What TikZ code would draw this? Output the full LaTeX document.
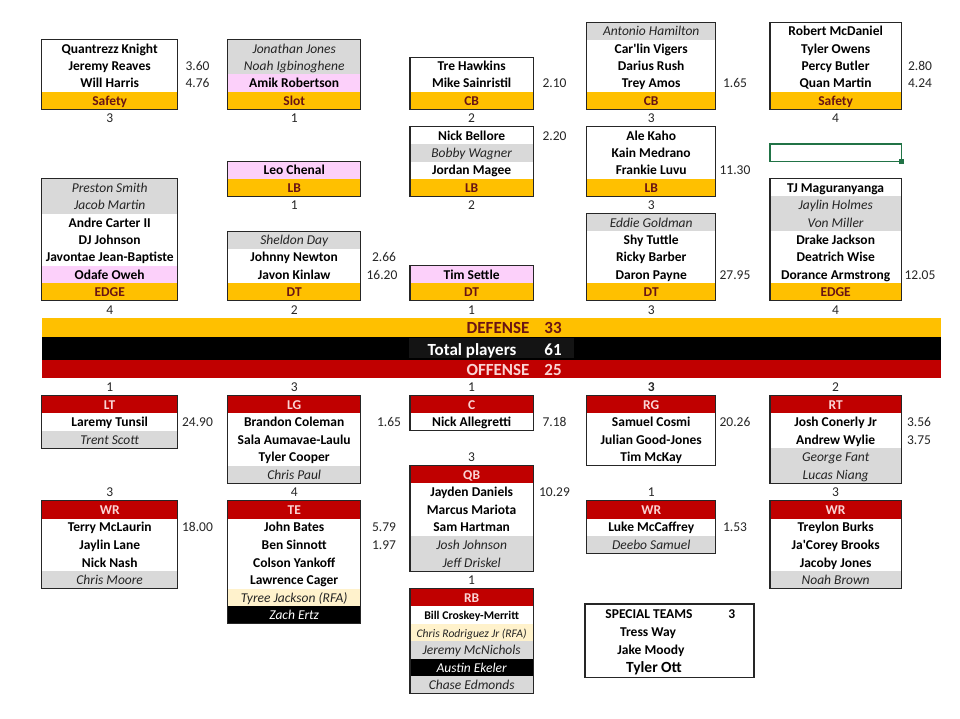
\documentclass[tikz,border=0pt]{standalone}
\usepackage{fontspec}
\setmainfont{Carlito}
\definecolor{gold}{RGB}{255,192,0}
\definecolor{offred}{RGB}{192,0,0}
\definecolor{grayfill}{RGB}{217,217,217}
\definecolor{pinkfill}{RGB}{252,208,250}
\definecolor{creamfill}{RGB}{255,242,204}
\definecolor{hdtext}{RGB}{105,20,20}
\definecolor{offtext}{RGB}{250,212,212}
\definecolor{xlgreen}{RGB}{33,115,70}
\newcounter{cellc}
\def\clA{41.7}\def\crA{177.7}
\def\clC{227.7}\def\crC{360.7}
\def\clE{410}\def\crE{533.3}
\def\clG{586.7}\def\crG{715.7}
\def\clI{770}\def\crI{901.3}
\tikzset{
  cellbase/.style={inner sep=0pt, minimum height=17.7pt, text height=11pt, text depth=1.5pt, text=black, font=\bfseries\fontsize{13.5}{15}\selectfont},
  nm/.style={},
  gy/.style={fill=grayfill, text=black!86, font=\itshape\fontsize{13.5}{15}\selectfont},
  pk/.style={fill=pinkfill},
  dh/.style={fill=gold, text=hdtext},
  oh/.style={fill=offred, text=offtext},
  cr/.style={fill=creamfill, text=black!86, font=\itshape\fontsize{13.5}{15}\selectfont},
  bk/.style={fill=black, text=white, font=\itshape\fontsize{13.5}{15}\selectfont},
  sm/.style={font=\bfseries\fontsize{11.8}{13}\selectfont},
  smi/.style={font=\itshape\fontsize{11.6}{13}\selectfont},
  cnt/.style={inner sep=0pt, text height=11pt, text depth=1.5pt, text=black!85, font=\fontsize{13.5}{15}\selectfont},
  numtxt/.style={inner sep=0pt, text height=11pt, text depth=1.5pt, text=black!85, font=\fontsize{13.5}{15}\selectfont},
  boxline/.style={draw=black!85, line width=1.1pt},
  bandtxt/.style={inner sep=0pt, anchor=base, font=\bfseries\fontsize{17}{19}\selectfont},
}
\newcommand\dcell[4]{%
  \stepcounter{cellc}%
  \pgfmathsetmacro\tmpx{(\csname cl#1\endcsname+\csname cr#1\endcsname)/2}%
  \pgfmathsetmacro\tmpw{\csname cr#1\endcsname-\csname cl#1\endcsname}%
  \pgfmathsetmacro\tmpy{31+17.4*#2}%
  \node[cellbase,minimum width=\tmpw pt,#3] (cell\arabic{cellc}) at (\tmpx,\tmpy) {#4};}
\newcommand\ocell[4]{%
  \stepcounter{cellc}%
  \pgfmathsetmacro\tmpx{(\csname cl#1\endcsname+\csname cr#1\endcsname)/2}%
  \pgfmathsetmacro\tmpw{\csname cr#1\endcsname-\csname cl#1\endcsname}%
  \pgfmathsetmacro\tmpy{386.8+17.55*#2}%
  \node[cellbase,minimum width=\tmpw pt,#3] (cell\arabic{cellc}) at (\tmpx,\tmpy) {#4};}
\newcommand\dbox[3]{%
  \draw[boxline] (\csname cl#1\endcsname,{22.3+17.4*#2}) rectangle (\csname cr#1\endcsname,{22.3+17.4*(#3+1)});}
\newcommand\obox[3]{%
  \draw[boxline] (\csname cl#1\endcsname,{378+17.55*#2}) rectangle (\csname cr#1\endcsname,{378+17.55*(#3+1)});}
\newcommand\dnum[3]{\stepcounter{cellc}\node[numtxt] (cell\arabic{cellc}) at (#1,{31+17.4*#2}) {#3};}
\newcommand\onum[3]{\stepcounter{cellc}\node[numtxt] (cell\arabic{cellc}) at (#1,{386.8+17.55*#2}) {#3};}
\newcommand\dcnt[3]{\stepcounter{cellc}%
  \pgfmathsetmacro\tmpx{(\csname cl#1\endcsname+\csname cr#1\endcsname)/2}%
  \node[cnt] (cell\arabic{cellc}) at (\tmpx,{31+17.4*#2}) {#3};}
\newcommand\ocnt[4][]{\stepcounter{cellc}%
  \pgfmathsetmacro\tmpx{(\csname cl#2\endcsname+\csname cr#2\endcsname)/2}%
  \node[cnt,#1] (cell\arabic{cellc}) at (\tmpx,{386.8+17.55*#3}) {#4};}
\begin{document}
\begin{tikzpicture}[x=1pt,y=-1pt]
\useasboundingbox (0,0) rectangle (960,719);
\fill[white] (0,0) rectangle (960,719);
% ===== DEFENSE =====
% Safety left
\dcell{A}{1}{nm}{Quantrezz Knight}
\dcell{A}{2}{nm}{Jeremy Reaves}
\dcell{A}{3}{nm}{Will Harris}
\dcell{A}{4}{dh}{Safety}
\dbox{A}{1}{4}
\dnum{197.5}{2}{3.60}
\dnum{197.5}{3}{4.76}
\dcnt{A}{5}{3}
% Slot
\dcell{C}{1}{gy}{Jonathan Jones}
\dcell{C}{2}{gy}{Noah Igbinoghene}
\dcell{C}{3}{pk}{Amik Robertson}
\dcell{C}{4}{dh}{Slot}
\dbox{C}{1}{4}
\dcnt{C}{5}{1}
% CB middle
\dcell{E}{2}{nm}{Tre Hawkins}
\dcell{E}{3}{nm}{Mike Sainristil}
\dcell{E}{4}{dh}{CB}
\dbox{E}{2}{4}
\dnum{554.5}{3}{2.10}
\dcnt{E}{5}{2}
% CB right
\dcell{G}{0}{gy}{Antonio Hamilton}
\dcell{G}{1}{nm}{Car\textquotesingle lin Vigers}
\dcell{G}{2}{nm}{Darius Rush}
\dcell{G}{3}{nm}{Trey Amos}
\dcell{G}{4}{dh}{CB}
\dbox{G}{0}{4}
\dnum{735}{3}{1.65}
\dcnt{G}{5}{3}
% Safety right
\dcell{I}{0}{nm}{Robert McDaniel}
\dcell{I}{1}{nm}{Tyler Owens}
\dcell{I}{2}{nm}{Percy Butler}
\dcell{I}{3}{nm}{Quan Martin}
\dcell{I}{4}{dh}{Safety}
\dbox{I}{0}{4}
\dnum{920}{2}{2.80}
\dnum{920}{3}{4.24}
\dcnt{I}{5}{4}
% LB middle
\dcell{E}{6}{nm}{Nick Bellore}
\dcell{E}{7}{gy}{Bobby Wagner}
\dcell{E}{8}{nm}{Jordan Magee}
\dcell{E}{9}{dh}{LB}
\dbox{E}{6}{9}
\dnum{554.5}{6}{2.20}
\dcnt{E}{10}{2}
% LB right
\dcell{G}{6}{nm}{Ale Kaho}
\dcell{G}{7}{nm}{Kain Medrano}
\dcell{G}{8}{nm}{Frankie Luvu}
\dcell{G}{9}{dh}{LB}
\dbox{G}{6}{9}
\dnum{735}{8}{11.30}
\dcnt{G}{10}{3}
% LB left
\dcell{C}{8}{pk}{Leo Chenal}
\dcell{C}{9}{dh}{LB}
\dbox{C}{8}{9}
\dcnt{C}{10}{1}
% selected cell
\draw[xlgreen, line width=1.6pt] (\clI,{22.3+17.4*7}) rectangle (\crI,{22.3+17.4*8});
\fill[xlgreen] ({\crI-2.5},{22.3+17.4*8-2.5}) rectangle ({\crI+2.5},{22.3+17.4*8+2.5});
% EDGE left
\dcell{A}{9}{gy}{Preston Smith}
\dcell{A}{10}{gy}{Jacob Martin}
\dcell{A}{11}{nm}{Andre Carter II}
\dcell{A}{12}{nm}{DJ Johnson}
\dcell{A}{13}{nm}{Javontae Jean-Baptiste}
\dcell{A}{14}{pk}{Odafe Oweh}
\dcell{A}{15}{dh}{EDGE}
\dbox{A}{9}{15}
\dcnt{A}{16}{4}
% DT left
\dcell{C}{12}{gy}{Sheldon Day}
\dcell{C}{13}{nm}{Johnny Newton}
\dcell{C}{14}{nm}{Javon Kinlaw}
\dcell{C}{15}{dh}{DT}
\dbox{C}{12}{15}
\dnum{384}{13}{2.66}
\dnum{382}{14}{16.20}
\dcnt{C}{16}{2}
% DT middle
\dcell{E}{14}{pk}{Tim Settle}
\dcell{E}{15}{dh}{DT}
\dbox{E}{14}{15}
\dcnt{E}{16}{1}
% DT right
\dcell{G}{11}{gy}{Eddie Goldman}
\dcell{G}{12}{nm}{Shy Tuttle}
\dcell{G}{13}{nm}{Ricky Barber}
\dcell{G}{14}{nm}{Daron Payne}
\dcell{G}{15}{dh}{DT}
\dbox{G}{11}{15}
\dnum{735}{14}{27.95}
\dcnt{G}{16}{3}
% EDGE right
\dcell{I}{9}{nm}{TJ Maguranyanga}
\dcell{I}{10}{gy}{Jaylin Holmes}
\dcell{I}{11}{gy}{Von Miller}
\dcell{I}{12}{nm}{Drake Jackson}
\dcell{I}{13}{nm}{Deatrich Wise}
\dcell{I}{14}{nm}{Dorance Armstrong}
\dcell{I}{15}{dh}{EDGE}
\dbox{I}{9}{15}
\dnum{920}{14}{12.05}
\dcnt{I}{16}{4}
% ===== BANDS =====
\fill[gold] (41.7,317.5) rectangle (941,337);
\fill[black] (41.7,337) rectangle (941,360);
\fill[offred] (41.7,360) rectangle (941,378);
\fill[black!92] (409,337.5) rectangle (574,358);
\node[bandtxt, text=hdtext] (deflbl) at (498,333.2) {DEFENSE};
\node[bandtxt, text=hdtext] (defnum) at (553,333.2) {33};
\node[bandtxt, text=white] (totlbl) at (472,355.3) {Total players};
\node[bandtxt, text=white] (totnum) at (553,355.3) {61};
\node[bandtxt, text=offtext] (offlbl) at (498,375.6) {OFFENSE};
\node[bandtxt, text=offtext] (offnum) at (553,375.6) {25};
% ===== OFFENSE =====
% LT
\ocnt{A}{0}{1}
\ocell{A}{1}{oh}{LT}
\ocell{A}{2}{nm}{Laremy Tunsil}
\ocell{A}{3}{gy}{Trent Scott}
\obox{A}{1}{3}
\onum{197.5}{2}{24.90}
% LG
\ocnt{C}{0}{3}
\ocell{C}{1}{oh}{LG}
\ocell{C}{2}{nm}{Brandon Coleman}
\ocell{C}{3}{nm}{Sala Aumavae-Laulu}
\ocell{C}{4}{nm}{Tyler Cooper}
\ocell{C}{5}{gy}{Chris Paul}
\obox{C}{1}{5}
\onum{389}{2}{1.65}
% C
\ocnt{E}{0}{1}
\ocell{E}{1}{oh}{C}
\ocell{E}{2}{nm}{Nick Allegretti}
\obox{E}{1}{2}
\onum{554.5}{2}{7.18}
% RG
\ocnt[font=\bfseries\fontsize{13.5}{15}\selectfont]{G}{0}{3}
\ocell{G}{1}{oh}{RG}
\ocell{G}{2}{nm}{Samuel Cosmi}
\ocell{G}{3}{nm}{Julian Good-Jones}
\ocell{G}{4}{nm}{Tim McKay}
\obox{G}{1}{4}
\onum{735}{2}{20.26}
% RT
\ocnt{I}{0}{2}
\ocell{I}{1}{oh}{RT}
\ocell{I}{2}{nm}{Josh Conerly Jr}
\ocell{I}{3}{nm}{Andrew Wylie}
\ocell{I}{4}{gy}{George Fant}
\ocell{I}{5}{gy}{Lucas Niang}
\obox{I}{1}{5}
\onum{919}{2}{3.56}
\onum{919}{3}{3.75}
% QB
\ocnt{E}{4}{3}
\ocell{E}{5}{oh}{QB}
\ocell{E}{6}{nm}{Jayden Daniels}
\ocell{E}{7}{nm}{Marcus Mariota}
\ocell{E}{8}{nm}{Sam Hartman}
\ocell{E}{9}{gy}{Josh Johnson}
\ocell{E}{10}{gy}{Jeff Driskel}
\obox{E}{5}{10}
\onum{554.5}{6}{10.29}
% WR left
\ocnt{A}{6}{3}
\ocell{A}{7}{oh}{WR}
\ocell{A}{8}{nm}{Terry McLaurin}
\ocell{A}{9}{nm}{Jaylin Lane}
\ocell{A}{10}{nm}{Nick Nash}
\ocell{A}{11}{gy}{Chris Moore}
\obox{A}{7}{11}
\onum{197.5}{8}{18.00}
% TE
\ocnt{C}{6}{4}
\ocell{C}{7}{oh}{TE}
\ocell{C}{8}{nm}{John Bates}
\ocell{C}{9}{nm}{Ben Sinnott}
\ocell{C}{10}{nm}{Colson Yankoff}
\ocell{C}{11}{nm}{Lawrence Cager}
\ocell{C}{12}{cr}{Tyree Jackson (RFA)}
\ocell{C}{13}{bk}{Zach Ertz}
\obox{C}{7}{13}
\onum{384}{8}{5.79}
\onum{384}{9}{1.97}
% WR middle-right
\ocnt{G}{6}{1}
\ocell{G}{7}{oh}{WR}
\ocell{G}{8}{nm}{Luke McCaffrey}
\ocell{G}{9}{gy}{Deebo Samuel}
\obox{G}{7}{9}
\onum{735}{8}{1.53}
% WR right
\ocnt{I}{6}{3}
\ocell{I}{7}{oh}{WR}
\ocell{I}{8}{nm}{Treylon Burks}
\ocell{I}{9}{nm}{Ja\textquotesingle Corey Brooks}
\ocell{I}{10}{nm}{Jacoby Jones}
\ocell{I}{11}{gy}{Noah Brown}
\obox{I}{7}{11}
% RB
\ocnt{E}{11}{1}
\ocell{E}{12}{oh}{RB}
\ocell{E}{13}{sm}{Bill Croskey-Merritt}
\ocell{E}{14}{cr,smi}{Chris Rodriguez Jr (RFA)}
\ocell{E}{15}{gy}{Jeremy McNichols}
\ocell{E}{16}{bk}{Austin Ekeler}
\ocell{E}{17}{gy}{Chase Edmonds}
\obox{E}{12}{17}
% Special teams
\draw[boxline] (585,604) rectangle (754,677.3);
\node[cellbase] (stlbl) at (649,614) {SPECIAL TEAMS};
\node[cellbase] (stnum) at (731.7,614) {3};
\node[cellbase] (st1) at (648,632) {Tress Way};
\node[cellbase] (st2) at (651,650) {Jake Moody};
\node[cellbase, font=\bfseries\fontsize{15.5}{17}\selectfont] (st3) at (654,667.5) {Tyler Ott};
\end{tikzpicture}
\end{document}
